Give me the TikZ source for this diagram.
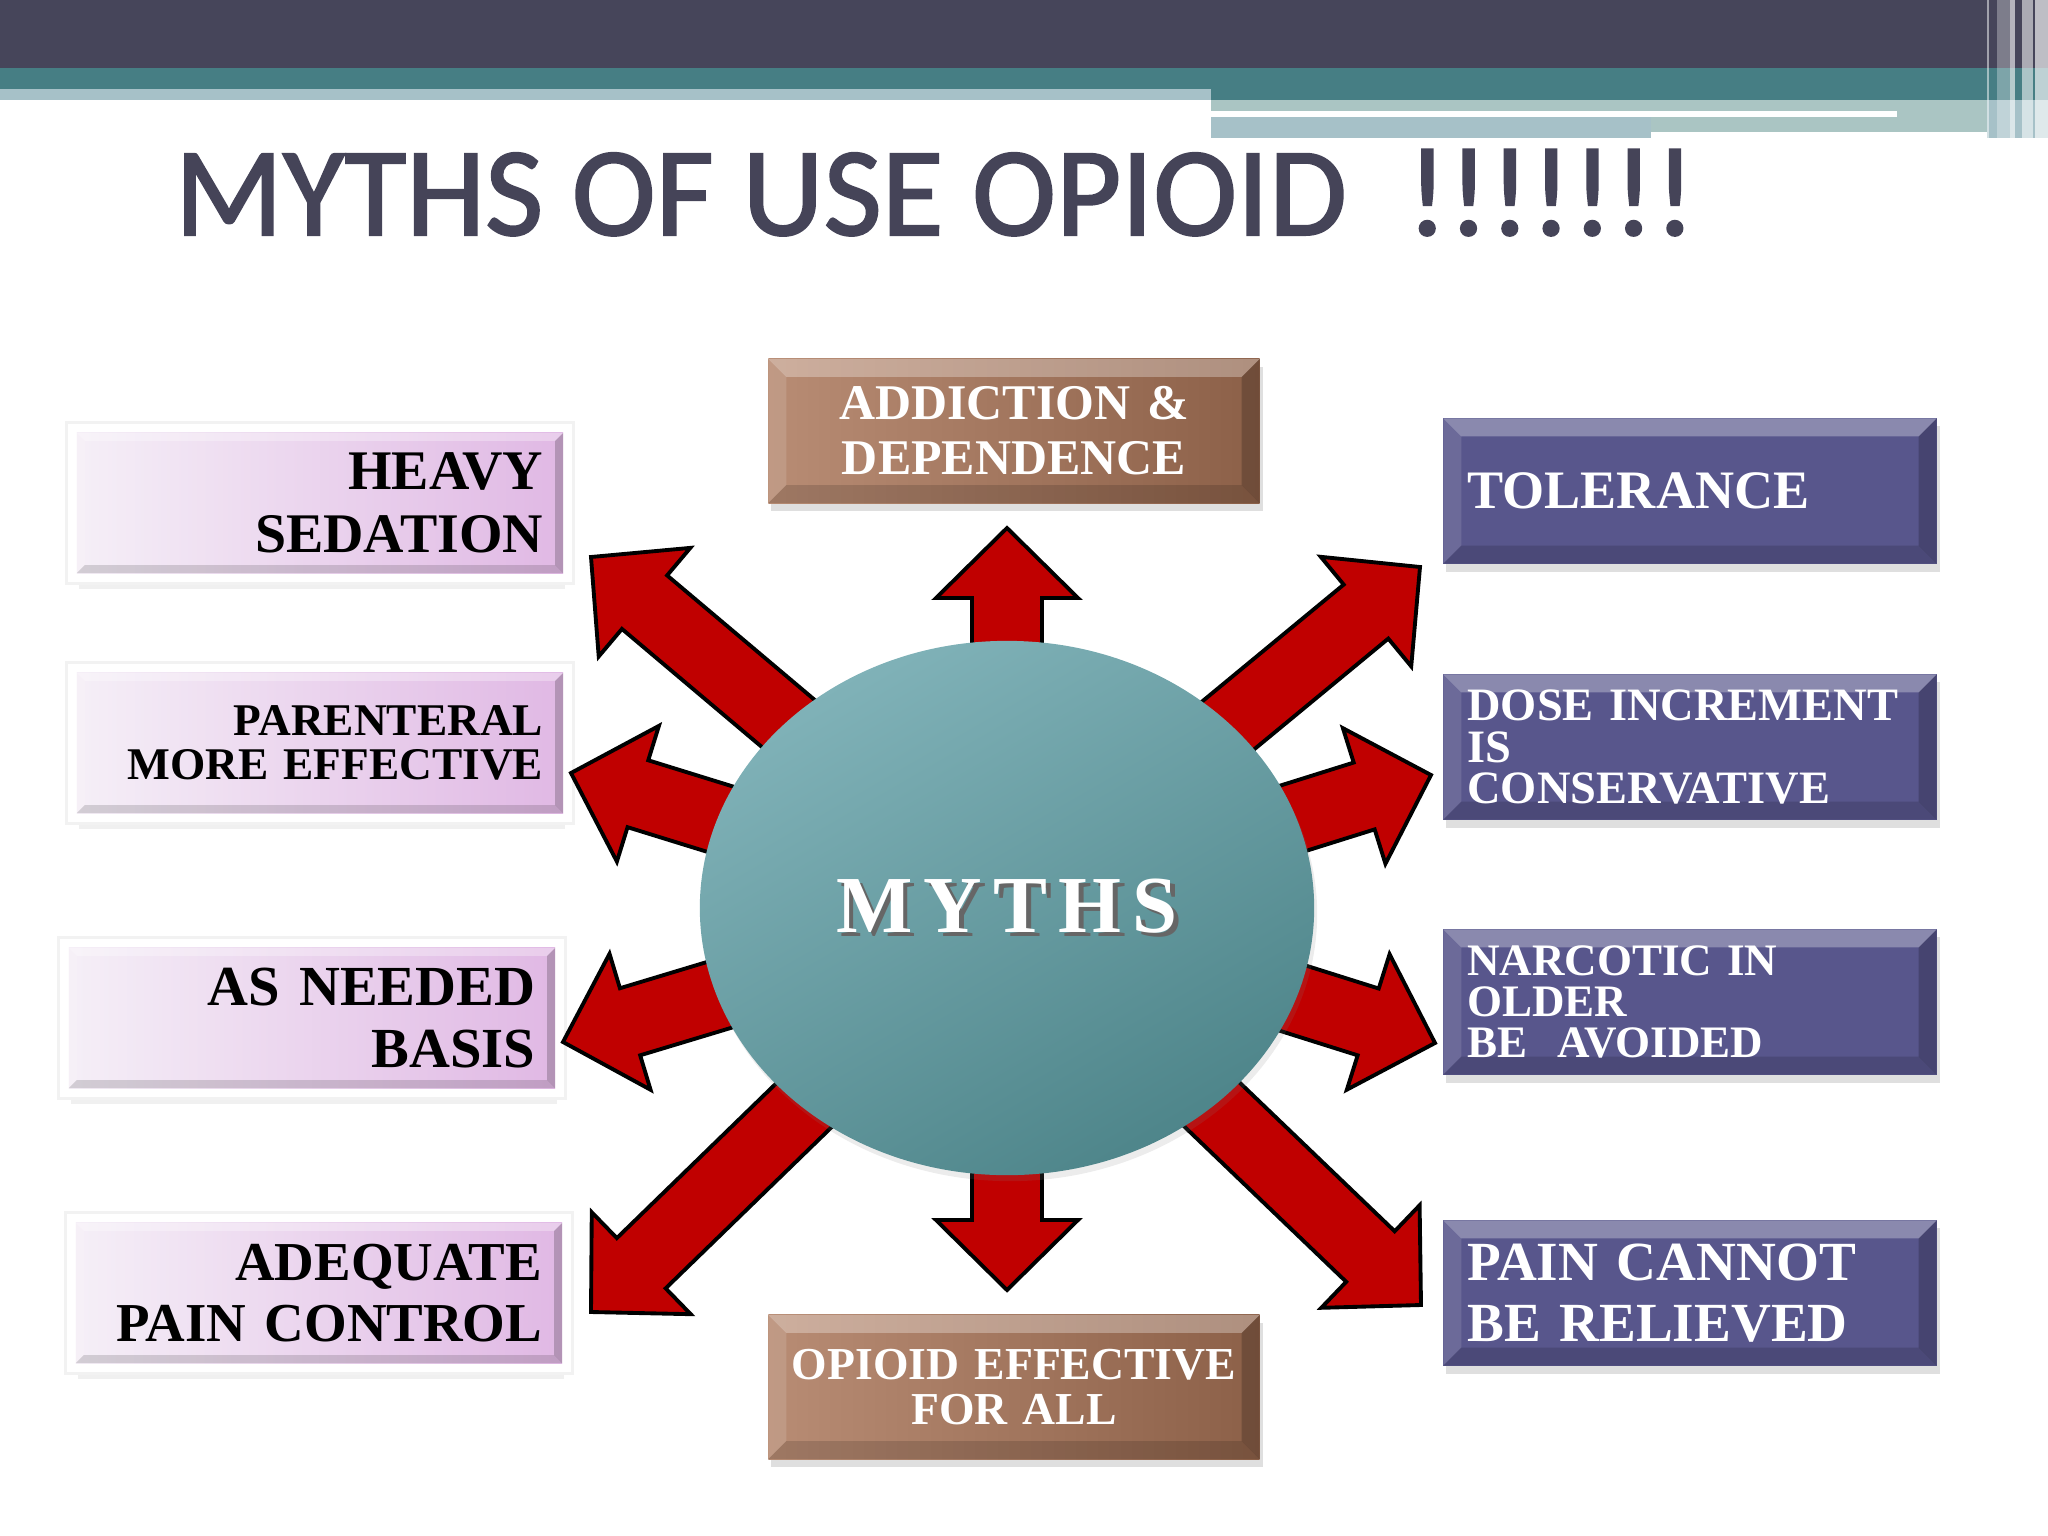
\documentclass[tikz,border=0pt]{standalone}
\usepackage{fontspec}
\setmainfont{Liberation Serif}
\newfontfamily\titlefont[FakeBold=1.6]{Carlito}
\usetikzlibrary{shapes.geometric,calc,shadows}

\definecolor{slatebar}{RGB}{70,69,90}
\definecolor{tealbar}{RGB}{70,126,132}
\definecolor{palebar}{RGB}{166,193,200}
\definecolor{palegreen}{RGB}{170,197,195}
\definecolor{titlegray}{RGB}{69,68,88}
\definecolor{arrowred}{RGB}{192,0,0}
\definecolor{pinklight}{RGB}{245,239,247}
\definecolor{pinkdark}{RGB}{224,184,228}
\definecolor{violetbox}{RGB}{88,86,140}
\definecolor{brownlight}{RGB}{184,140,116}
\definecolor{browndark}{RGB}{140,96,72}
\definecolor{balllight}{RGB}{128,178,184}
\definecolor{balldark}{RGB}{78,133,138}

\tikzset{
  bevel/.style={path picture={
      \fill[white,opacity=.3] (path picture bounding box.north west) -- (path picture bounding box.north east)
        -- ([shift={(-#1,-#1)}]path picture bounding box.north east) -- ([shift={(#1,-#1)}]path picture bounding box.north west) -- cycle;
      \fill[white,opacity=.12] (path picture bounding box.north west) -- ([shift={(#1,-#1)}]path picture bounding box.north west)
        -- ([shift={(#1,#1)}]path picture bounding box.south west) -- (path picture bounding box.south west) -- cycle;
      \fill[black,opacity=.14] (path picture bounding box.south west) -- ([shift={(#1,#1)}]path picture bounding box.south west)
        -- ([shift={(-#1,#1)}]path picture bounding box.south east) -- (path picture bounding box.south east) -- cycle;
      \fill[black,opacity=.2] (path picture bounding box.north east) -- ([shift={(-#1,-#1)}]path picture bounding box.north east)
        -- ([shift={(-#1,#1)}]path picture bounding box.south east) -- (path picture bounding box.south east) -- cycle;
  }},
  mytharrow/.style={fill=arrowred, draw=black, line width=1.1pt, line join=miter},
}

% block arrow from the centre of the ball to a tip coordinate
\newcommand{\mythsarrow}[1]{%
  \filldraw[mytharrow] let \p1 = ($(#1)-(ctr)$), \n1 = {atan2(\y1,\x1)} in
    (#1) -- ($(#1)+(\n1+180:7mm)+(\n1+90:7.1mm)$)
    -- ($(#1)+(\n1+180:7mm)+(\n1+90:3.5mm)$)
    -- ($(ctr)+(\n1+90:3.5mm)$)
    -- ($(ctr)+(\n1-90:3.5mm)$)
    -- ($(#1)+(\n1+180:7mm)+(\n1-90:3.5mm)$)
    -- ($(#1)+(\n1+180:7mm)+(\n1-90:7.1mm)$) -- cycle;}

\newcommand{\shadowtext}[1]{\makebox[0pt][l]{\kern1.3pt\raisebox{-1.3pt}{\color{black!60}#1}}#1}

\begin{document}
\begin{tikzpicture}[x=0.01cm, y=-0.01cm,
    pinkbox/.style={rectangle, minimum width=4.86cm, minimum height=1.4cm, inner xsep=2mm, text width=4.46cm,
      align=right, text=black, left color=pinklight, right color=pinkdark, bevel=0.8mm,
      drop shadow={shadow xshift=0.2mm, shadow yshift=-1.6mm, opacity=.12},
      preaction={draw=black!5, line width=2.3mm}, preaction={draw=white, line width=1.8mm}},
    violetbox/.style={rectangle, minimum width=4.93cm, minimum height=1.45cm, inner xsep=2.4mm, text width=4.45cm,
      align=left, text=white, fill=violetbox, bevel=1.8mm,
      drop shadow={shadow xshift=0.3mm, shadow yshift=-0.8mm, opacity=.25}},
    brownbox/.style={rectangle, minimum width=4.91cm, minimum height=1.44cm, inner xsep=1.5mm, text width=4.6cm,
      align=center, text=white, left color=brownlight, right color=browndark, bevel=1.8mm,
      drop shadow={shadow xshift=0.3mm, shadow yshift=-0.8mm, opacity=.25}},
    mythball/.style={ellipse, minimum width=6.14cm, minimum height=5.34cm, inner sep=0,
      top color=balllight, bottom color=balldark, shading angle=30, text=white,
      drop shadow={shadow xshift=0.3mm, shadow yshift=-0.6mm, opacity=.15},
      font=\bfseries\fontsize{23}{23}\selectfont\addfontfeature{LetterSpace=14}},
  ]
\useasboundingbox (0,0) rectangle (2048,1536);

% header bars
\fill[slatebar] (0,0) rectangle (2048,68);
\fill[tealbar] (0,68) rectangle (2048,100);
\fill[palebar] (0,89) rectangle (1211,100);
\fill[palegreen] (1211,100) rectangle (2048,132);
\fill[palebar] (1211,117) rectangle (1651,138);
\fill[white] (1211,111) rectangle (1897,117);
\fill[palebar] (1987,100) rectangle (2048,138);
\foreach \xa/\xb/\op in {1987/1989/.5, 1997/2010/.3, 2010/2015/.6, 2022/2033/.55, 2035/2048/.65}
  \fill[white,opacity=\op] (\xa,0) rectangle (\xb,138);

\node[anchor=base west, inner sep=0, text=titlegray, font=\titlefont\fontsize{36}{40}\selectfont] (title) at (174,235)
  {MYTHS OF USE OPIOID\hspace{17pt}!!!!!!!};

% left column
\node[pinkbox, font=\bfseries\fontsize{15.9}{17.8}\selectfont] (heavy) at (320,503) {HEAVY\\SEDATION};
\node[pinkbox, font=\bfseries\fontsize{12.9}{12.6}\selectfont] (parenteral) at (320,743) {PARENTERAL\\MORE EFFECTIVE};
\node[pinkbox, font=\bfseries\fontsize{16.1}{17.5}\selectfont] (asneeded) at (312,1018) {AS NEEDED\\BASIS};
\node[pinkbox, font=\bfseries\fontsize{15.6}{17.5}\selectfont] (adequate) at (319,1293) {ADEQUATE\\PAIN CONTROL};

% right column
\node[violetbox, font=\bfseries\fontsize{15.4}{17}\selectfont] (tolerance) at (1690,491) {TOLERANCE};
\node[violetbox, font=\bfseries\fontsize{13.2}{11.9}\selectfont] (dose) at (1690,747) {DOSE INCREMENT\\IS\\CONSERVATIVE};
\node[violetbox, font=\bfseries\fontsize{12.8}{11.7}\selectfont] (narcotic) at (1690,1002) {NARCOTIC IN\\OLDER\\BE\ \ AVOIDED};
\node[violetbox, font=\bfseries\fontsize{15.7}{17.3}\selectfont] (paincannot) at (1690,1293) {PAIN CANNOT\\BE RELIEVED};

% top and bottom
\node[brownbox, font=\bfseries\fontsize{14.2}{15.6}\selectfont] (addiction) at (1014,431) {ADDICTION \&\\DEPENDENCE};
\node[brownbox, font=\bfseries\fontsize{13}{13}\selectfont] (effective) at (1014,1387) {OPIOID EFFECTIVE\\FOR ALL};

% arrows
\coordinate (ctr) at (1007,908);
\coordinate (tipheavy) at (591,557);
\coordinate (tipparent) at (571,773);
\coordinate (tipneeded) at (563,1042);
\coordinate (tipadequate) at (591,1312);
\coordinate (tipaddiction) at (1007,528);
\coordinate (tipeffective) at (1007,1290);
\coordinate (tiptolerance) at (1420,567);
\coordinate (tipdose) at (1431,775);
\coordinate (tipnarcotic) at (1435,1043);
\coordinate (tippain) at (1421,1305);
\mythsarrow{tipheavy}
\mythsarrow{tipparent}
\mythsarrow{tipneeded}
\mythsarrow{tipadequate}
\mythsarrow{tipaddiction}
\mythsarrow{tipeffective}
\mythsarrow{tiptolerance}
\mythsarrow{tipdose}
\mythsarrow{tipnarcotic}
\mythsarrow{tippain}

\node[mythball] (myths) at (ctr) {\shadowtext{MYTHS}};
\end{tikzpicture}
\end{document}
